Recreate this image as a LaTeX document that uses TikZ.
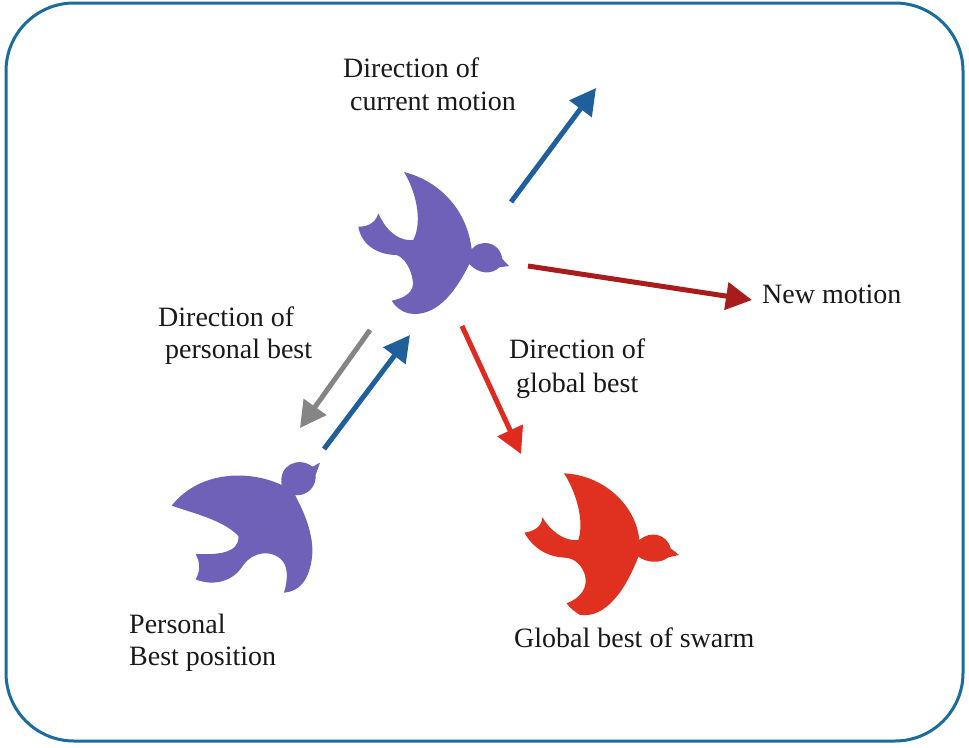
\documentclass[tikz,border=0pt]{standalone}
\usepackage{fontspec}
\setmainfont{Liberation Serif}
\usetikzlibrary{arrows.meta}
\definecolor{frameblue}{HTML}{1B6C9E}
\definecolor{birdpurple}{HTML}{7061B8}
\definecolor{birdred}{HTML}{E03020}
\definecolor{arrowblue}{HTML}{1F5F9C}
\definecolor{arrowdark}{HTML}{A81C1C}
\definecolor{arrowgray}{HTML}{858585}
\definecolor{arrowred}{HTML}{E02A20}
\tikzset{
  flow/.style={line width=5pt,-{Triangle[length=26pt,width=27pt]}},
  lab/.style={inner sep=0pt,font=\fontsize{28}{33}\selectfont,text=black!90},
  zoomed/.style={x=0.3333pt,y=-0.3333pt}
}
\begin{document}
\begin{tikzpicture}[x=1pt,y=-1pt]
\useasboundingbox (0,0) rectangle (969,747);
\fill[white] (0,0) rectangle (969,747);
\node[draw=frameblue,line width=3pt,rounded corners=68pt,minimum width=957pt,minimum height=738pt,inner sep=0pt] (frame) at (484.5,372) {};
% top bird
\begin{scope}[shift={(340,160)},zoomed]
\fill[birdpurple] (192,36) .. controls (305,65) and (382,155) .. (395,268)
 .. controls (415,240) and (478,238) .. (487,297) -- (507,318) -- (478,322)
 .. controls (455,345) and (415,342) .. (388,312)
 .. controls (345,400) and (285,475) .. (205,460)
 .. controls (185,455) and (165,440) .. (155,422)
 .. controls (195,415) and (225,395) .. (218,360)
 .. controls (212,325) and (195,295) .. (170,285)
 .. controls (120,285) and (65,260) .. (55,200)
 .. controls (75,200) and (105,195) .. (115,160)
 .. controls (130,195) and (165,245) .. (220,240)
 .. controls (250,180) and (225,90) .. (192,36) -- cycle;
\end{scope}
% personal best bird
\begin{scope}[shift={(160,450)},zoomed]
\fill[birdpurple] (35,167) .. controls (120,60) and (270,60) .. (365,105)
 .. controls (355,45) and (415,18) .. (458,50) -- (480,38) -- (467,75)
 .. controls (470,115) and (435,140) .. (405,135)
 .. controls (440,200) and (465,270) .. (455,330)
 .. controls (445,395) and (415,425) .. (372,428)
 .. controls (385,385) and (385,345) .. (360,325)
 .. controls (330,300) and (280,305) .. (250,345)
 .. controls (220,395) and (160,410) .. (107,388)
 .. controls (120,365) and (122,340) .. (107,312)
 .. controls (170,315) and (240,310) .. (235,258)
 .. controls (190,210) and (100,190) .. (35,167) -- cycle;
\end{scope}
% global best bird
\begin{scope}[shift={(510,460)},zoomed]
\fill[birdred] (162,40) .. controls (280,45) and (378,135) .. (388,240)
 .. controls (420,212) and (470,220) .. (482,265) -- (507,285) -- (475,292)
 .. controls (450,312) and (410,308) .. (385,290)
 .. controls (345,395) and (285,475) .. (210,465)
 .. controls (195,455) and (180,445) .. (170,430)
 .. controls (210,415) and (235,385) .. (225,345)
 .. controls (215,315) and (195,295) .. (165,293)
 .. controls (110,290) and (70,265) .. (43,218)
 .. controls (65,215) and (95,205) .. (97,172)
 .. controls (120,210) and (160,245) .. (205,240)
 .. controls (225,180) and (195,90) .. (162,40) -- cycle;
\end{scope}
% connector ends
\coordinate (a1) at (511,202); \coordinate (a2) at (596,88);
\coordinate (b1) at (528,266); \coordinate (b2) at (752,300);
\coordinate (c1) at (370,330); \coordinate (c2) at (300,428);
\coordinate (d1) at (324,449); \coordinate (d2) at (410,335);
\coordinate (e1) at (462,326); \coordinate (e2) at (521,454);
\draw[flow,arrowblue] (a1) -- (a2);
\draw[flow,arrowdark] (b1) -- (b2);
\draw[flow,arrowgray] (c1) -- (c2);
\draw[flow,arrowblue] (d1) -- (d2);
\draw[flow,arrowred] (e1) -- (e2);
% labels
\node[lab,anchor=base west] (t1) at (343,77) {Direction of};
\node[lab,anchor=base west] (t2) at (350,110) {current motion};
\node[lab,anchor=base west] (t3) at (762,303) {New motion};
\node[lab,anchor=base west] (t4) at (158,326) {Direction of};
\node[lab,anchor=base west] (t5) at (165,358) {personal best};
\node[lab,anchor=base west] (t6) at (509,358) {Direction of};
\node[lab,anchor=base west] (t7) at (516,392) {global best};
\node[lab,anchor=base west] (t8) at (129,633) {Personal};
\node[lab,anchor=base west] (t9) at (129,665) {Best position};
\node[lab,anchor=base west] (t10) at (514,647) {Global best of swarm};
\end{tikzpicture}
\end{document}
